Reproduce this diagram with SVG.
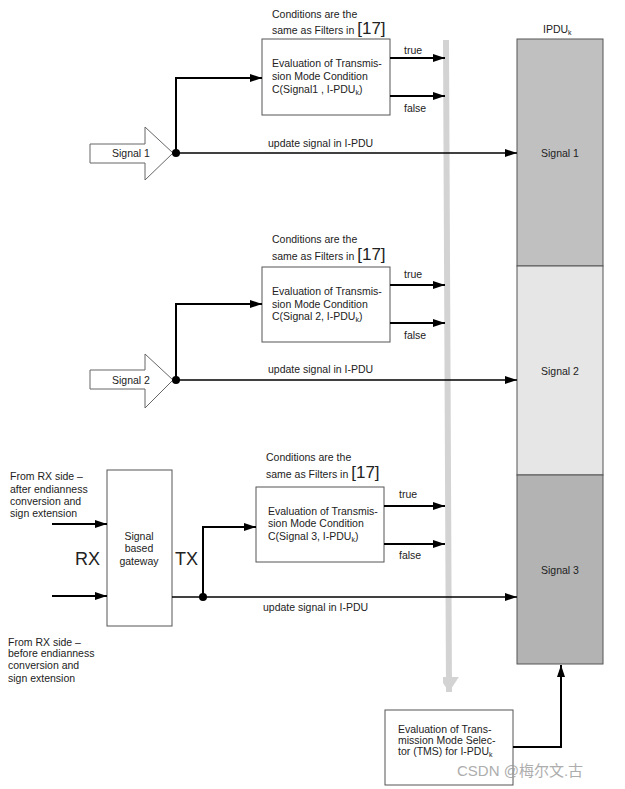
<svg xmlns="http://www.w3.org/2000/svg" width="625" height="789" viewBox="0 0 625 789">
<defs>
<marker id="ah" markerWidth="12" markerHeight="8" refX="12" refY="4" orient="auto" markerUnits="userSpaceOnUse">
<path d="M0,0 L12,4 L0,8 Z" fill="#000"/>
</marker>
<marker id="gh" markerWidth="20" markerHeight="16" refX="15" refY="10" orient="auto" markerUnits="userSpaceOnUse">
<path d="M0,0 L15,10 L0,20 Z" fill="#d3d3d3"/>
</marker>
</defs>
<style>
text{font-family:"Liberation Sans",Arial,sans-serif;font-size:10.5px;fill:#222}
.big{font-size:17px}
.rx{font-size:18px}
.sub{font-size:7px}
.box{fill:#fff;stroke:#555;stroke-width:1}
.ln{fill:none;stroke:#000;stroke-width:2}
.ln1{fill:none;stroke:#000;stroke-width:1.5}
.blk{fill:#fff;stroke:#666;stroke-width:1}
.mid{text-anchor:middle}
</style>
<rect width="625" height="789" fill="#fff"/>

<g id="ipdu">
<text x="543" y="33">IPDU<tspan class="sub" dy="2">k</tspan></text>
<rect x="517" y="39" width="86" height="227" fill="#c0c0c0" stroke="#555"/>
<rect x="517" y="266" width="86" height="209" fill="#e6e6e6" stroke="#555"/>
<rect x="517" y="475" width="86" height="189" fill="#b3b3b3" stroke="#555"/>
<text class="mid" x="560" y="157">Signal 1</text>
<text class="mid" x="560" y="375">Signal 2</text>
<text class="mid" x="560" y="574">Signal 3</text>
</g>

<g id="signal1-input">
<polygon class="blk" points="90,144 145,144 145,127 173,153 145,180 145,163 90,163"/>
<text x="112" y="157">Signal 1</text>
</g>
<g id="eval1">
<text x="272" y="18">Conditions are the</text>
<text x="272" y="34">same as Filters in <tspan class="big">[17]</tspan></text>
<rect class="box" x="262" y="39" width="128" height="76"/>
<text x="272" y="67">Evaluation of Transmis-</text>
<text x="272" y="80">sion Mode Condition</text>
<text x="272" y="93">C(Signal1 , I-PDU<tspan class="sub" dy="2">k</tspan><tspan dy="-2">)</tspan></text>
<text x="404" y="54">true</text>
<text x="404" y="112">false</text>
</g>

<g id="signal2-input">
<polygon class="blk" points="90,370 145,370 145,354 173,380 145,408 145,389 90,389"/>
<text x="112" y="384">Signal 2</text>
</g>
<g id="eval2">
<text x="272" y="243">Conditions are the</text>
<text x="272" y="260">same as Filters in <tspan class="big">[17]</tspan></text>
<rect class="box" x="262" y="267" width="128" height="75"/>
<text x="272" y="295">Evaluation of Transmis-</text>
<text x="272" y="308">sion Mode Condition</text>
<text x="272" y="320">C(Signal 2, I-PDU<tspan class="sub" dy="2">k</tspan><tspan dy="-2">)</tspan></text>
<text x="404" y="278">true</text>
<text x="404" y="339">false</text>
</g>

<g id="gateway">
<text x="10" y="480">From RX side –</text>
<text x="10" y="493">after endianness</text>
<text x="10" y="505">conversion and</text>
<text x="10" y="517">sign extension</text>
<text x="8" y="646">From RX side –</text>
<text x="8" y="657">before endianness</text>
<text x="8" y="669">conversion and</text>
<text x="8" y="682">sign extension</text>
<rect class="box" x="107" y="470" width="65" height="156"/>
<text class="mid" x="139" y="540">Signal</text>
<text class="mid" x="139" y="552">based</text>
<text class="mid" x="139" y="565">gateway</text>
<text class="rx" x="75" y="565">RX</text>
<text class="rx" x="175" y="565">TX</text>
</g>
<g id="eval3">
<text x="266" y="461">Conditions are the</text>
<text x="266" y="478">same as Filters in <tspan class="big">[17]</tspan></text>
<rect class="box" x="256" y="487" width="128" height="75"/>
<text x="268" y="515">Evaluation of Transmis-</text>
<text x="268" y="527">sion Mode Condition</text>
<text x="268" y="540">C(Signal 3, I-PDU<tspan class="sub" dy="2">k</tspan><tspan dy="-2">)</tspan></text>
<text x="399" y="498">true</text>
<text x="399" y="559">false</text>
</g>

<g id="tms">
<rect class="box" x="385" y="710" width="128" height="75"/>
<text x="398" y="733">Evaluation of Trans-</text>
<text x="398" y="744">mission Mode Selec-</text>
<text x="398" y="755">tor (TMS) for I-PDU<tspan class="sub" dy="2">k</tspan></text>
</g>

<g id="connectors">
<path d="M446,40 L449,692" stroke="#d3d3d3" stroke-width="6" fill="none" marker-end="url(#gh)"/>
<!-- section 1 -->
<path class="ln1" d="M176,153 L517,153" marker-end="url(#ah)"/>
<path class="ln" d="M176,153 L176,78 L262,78" marker-end="url(#ah)"/>
<path class="ln" d="M390,58 L445,58" marker-end="url(#ah)"/>
<path class="ln" d="M390,96 L445,96" marker-end="url(#ah)"/>
<circle cx="176" cy="153" r="4" fill="#000"/>
<text x="268" y="147">update signal in I-PDU</text>
<!-- section 2 -->
<path class="ln1" d="M176,380 L517,380" marker-end="url(#ah)"/>
<path class="ln" d="M176,380 L176,304 L262,304" marker-end="url(#ah)"/>
<path class="ln" d="M390,285 L445,285" marker-end="url(#ah)"/>
<path class="ln" d="M390,323 L445,323" marker-end="url(#ah)"/>
<circle cx="176" cy="380" r="4" fill="#000"/>
<text x="268" y="373">update signal in I-PDU</text>
<!-- section 3 -->
<path class="ln" d="M52,524 L107,524" marker-end="url(#ah)"/>
<path class="ln" d="M52,596 L107,596" marker-end="url(#ah)"/>
<path class="ln1" d="M172,597 L517,597" marker-end="url(#ah)"/>
<path class="ln" d="M203,597 L203,527 L256,527" marker-end="url(#ah)"/>
<path class="ln" d="M384,506 L445,506" marker-end="url(#ah)"/>
<path class="ln" d="M384,544 L445,544" marker-end="url(#ah)"/>
<circle cx="203" cy="597" r="4" fill="#000"/>
<text x="263" y="611">update signal in I-PDU</text>
<!-- TMS -->
<path class="ln" d="M513,747 L561,747 L561,665" marker-end="url(#ah)"/>
</g>

<text x="457" y="776" style="font-family:'Liberation Sans','Noto Sans CJK SC',sans-serif;font-size:15px;fill:#999;opacity:0.8">CSDN @梅尔文.古</text>
</svg>
